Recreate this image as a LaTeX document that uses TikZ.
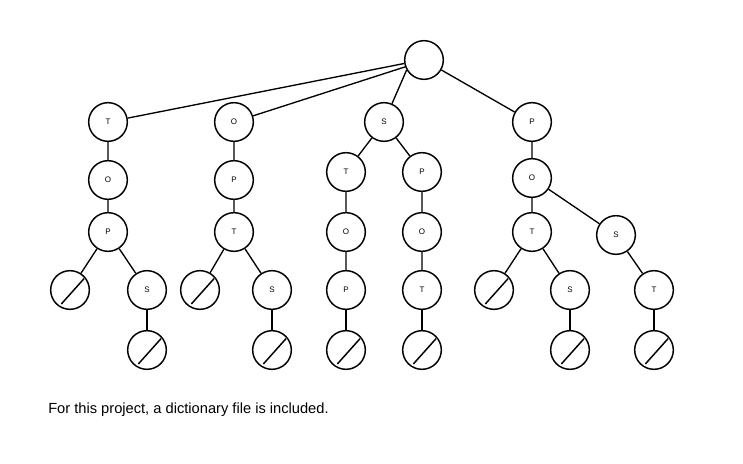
\documentclass[tikz,border=0pt]{standalone}
\usepackage{fontspec}
\setmainfont{Liberation Sans}
\begin{document}
\begin{tikzpicture}[x=0.75pt,y=-0.75pt,
  n/.style={circle,draw,line width=1.1pt,minimum size=29pt,inner sep=0pt,font=\fontsize{6}{7}\selectfont},
  nul/.style={n,path picture={\draw[line width=1.1pt] (path picture bounding box.south west)++(8pt,4pt) -- ++(17pt,19pt);}},
  e/.style={line width=1pt},
  t/.style={line width=2.2pt}]
\useasboundingbox (0,0) rectangle (743,464);
\node[n] (r) at (424,60) {};
\node[n] (a1) at (108,122) {T};
\node[n] (a2) at (108,180) {O};
\node[n] (a3) at (108,232) {P};
\node[nul] (a4) at (70,290) {};
\node[n] (a5) at (147,290) {S};
\node[nul] (a6) at (147,350) {};
\node[n] (b1) at (234,122) {O};
\node[n] (b2) at (234,180) {P};
\node[n] (b3) at (234,232) {T};
\node[nul] (b4) at (200,290) {};
\node[n] (b5) at (272,290) {S};
\node[nul] (b6) at (272,350) {};
\node[n] (c1) at (384,122) {S};
\node[n] (c2) at (346,172) {T};
\node[n] (c3) at (346,232) {O};
\node[n] (c4) at (346,290) {P};
\node[nul] (c5) at (346,350) {};
\node[n] (d2) at (422,172) {P};
\node[n] (d3) at (422,232) {O};
\node[n] (d4) at (422,290) {T};
\node[nul] (d5) at (422,350) {};
\node[n] (p1) at (532,122) {P};
\node[n] (p2) at (532,178) {O};
\node[n] (p3) at (532,232) {T};
\node[nul] (p4) at (494,290) {};
\node[n] (p5) at (570,290) {S};
\node[nul] (p6) at (570,350) {};
\node[n] (q1) at (616,235) {S};
\node[n] (q2) at (654,290) {T};
\node[nul] (q3) at (654,350) {};
\draw[e] (r.190)--(a1) (r.200)--(b1) (r.210)--(c1) (r)--(p1);
\draw[e] (a1)--(a2) (a2)--(a3) (a3)--(a4) (a3)--(a5);
\draw[t] (a5)--(a6);
\draw[e] (b1)--(b2) (b2)--(b3) (b3)--(b4) (b3)--(b5);
\draw[t] (b5)--(b6);
\draw[e] (c1)--(c2) (c2)--(c3) (c3)--(c4) (c1)--(d2) (d2)--(d3) (d3)--(d4);
\draw[t] (c4)--(c5) (d4)--(d5);
\draw[e] (p1)--(p2) (p2)--(p3) (p3)--(p4) (p3)--(p5) (p2)--(q1) (q1)--(q2);
\draw[t] (p5)--(p6) (q2)--(q3);
\node[anchor=west,font=\fontsize{11}{13}\selectfont,inner sep=0pt] (cap) at (48,410) {For this project, a dictionary file is included.};
\end{tikzpicture}
\end{document}
